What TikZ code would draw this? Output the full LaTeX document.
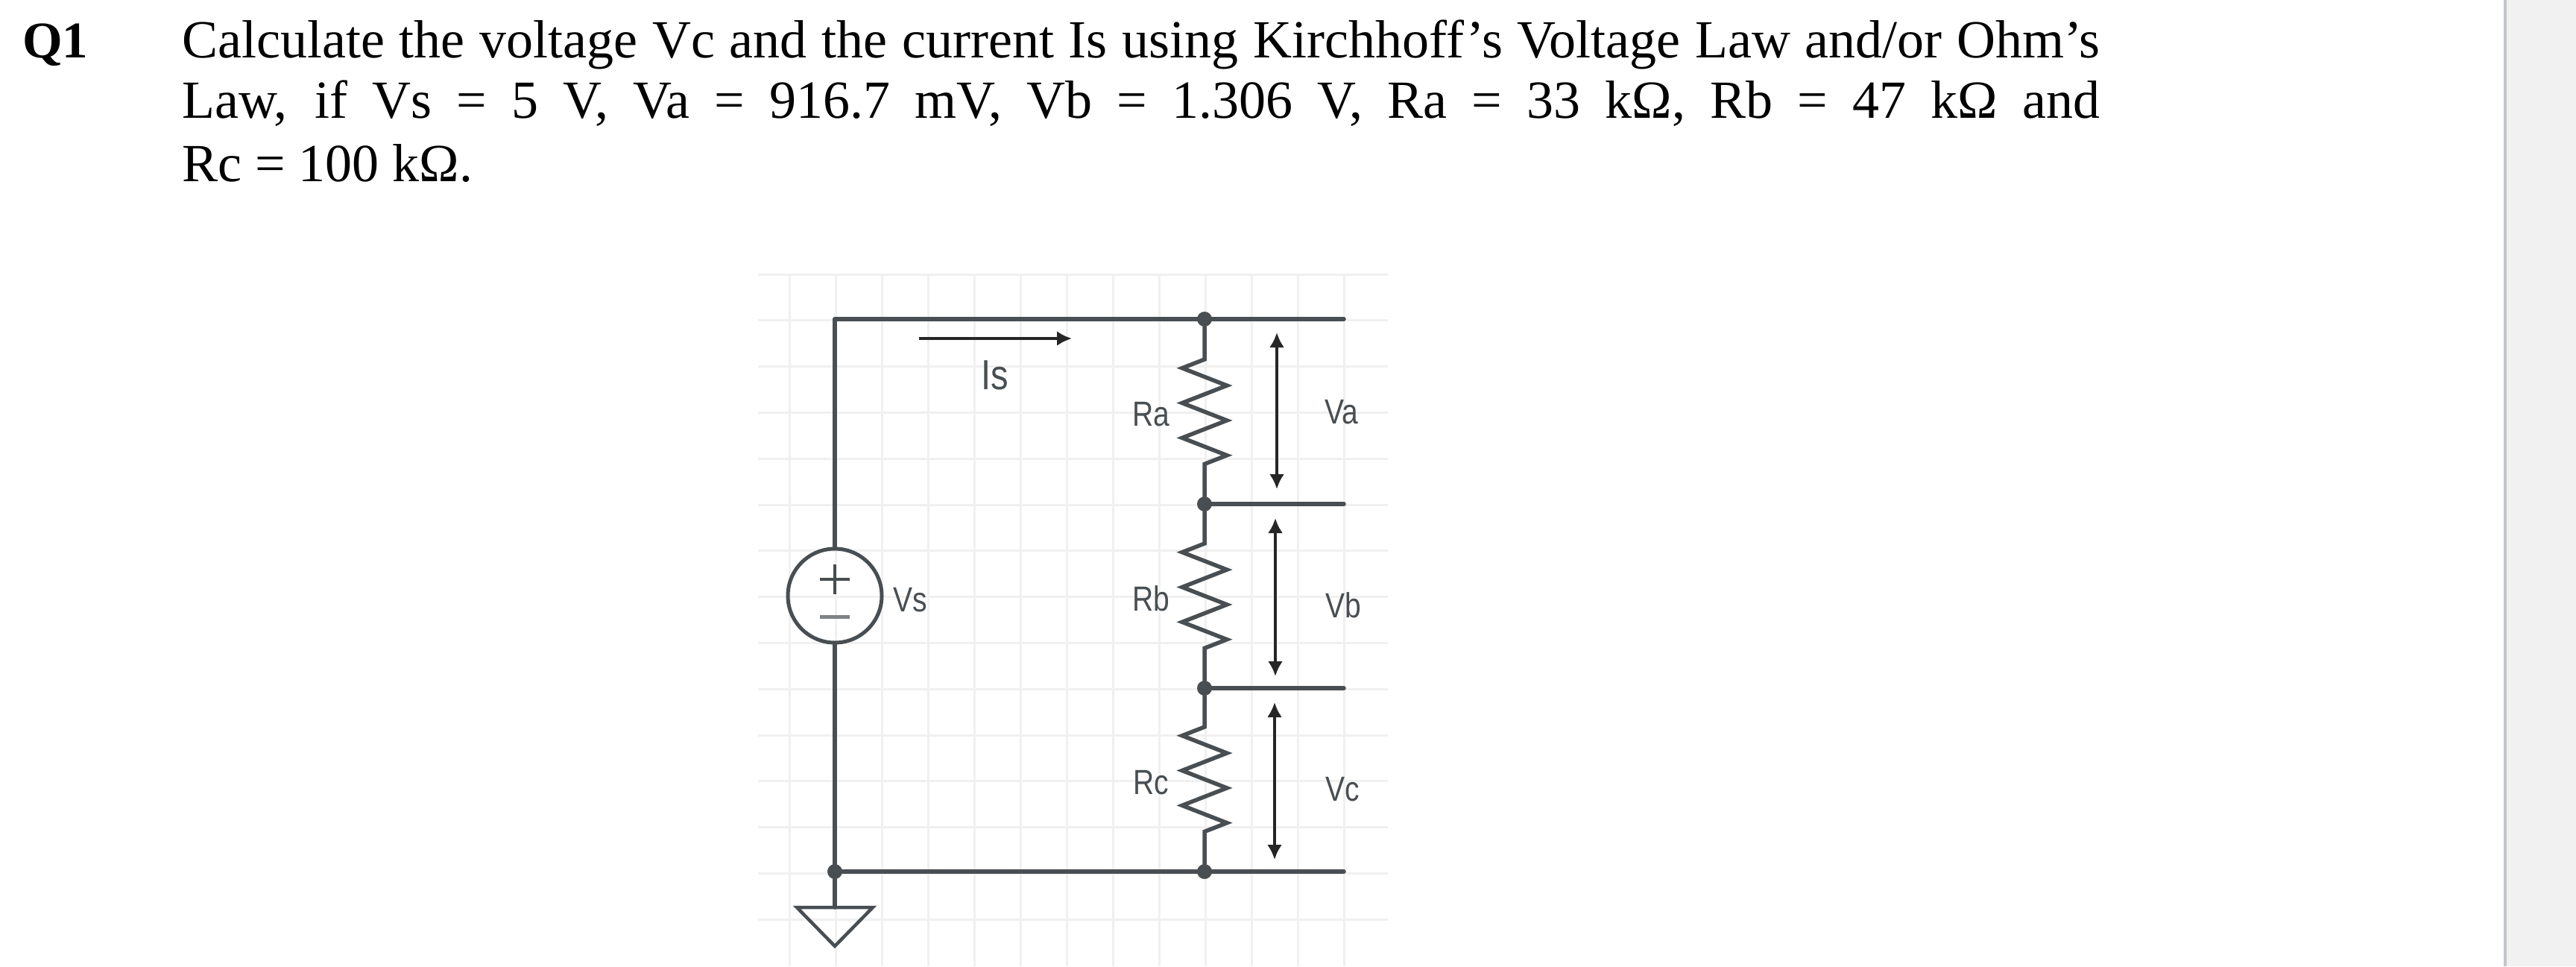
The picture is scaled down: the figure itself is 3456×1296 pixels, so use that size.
\documentclass[tikz,border=0pt]{standalone}
\usepackage{fontspec}
\setmainfont{Liberation Serif}
\newfontfamily\labelfont{Liberation Sans}
\usetikzlibrary{arrows.meta}
\definecolor{wirecol}{HTML}{484E52}
\definecolor{gridcol}{HTML}{F0F0F0}
\definecolor{panelcol}{HTML}{F1F1F2}
\definecolor{edgecol}{HTML}{C2C5C9}
\newcommand{\tall}[1]{\scalebox{1}[1.2]{#1}}

\begin{document}
\begin{tikzpicture}
  [x=1pt,y=-1pt,
   wire/.style={draw=wirecol,line width=5.5pt,line cap=round,line join=miter},
   volt/.style={draw=black!85,line width=4pt,{Latex[length=20pt,width=20pt]}-{Latex[length=20pt,width=20pt]}},
   junction/.style={circle,fill=wirecol,inner sep=0pt,minimum size=20pt},
   cct/.style={font=\labelfont\fontsize{39}{44}\selectfont,text=wirecol,inner sep=0pt},
   line/.style={anchor=base west,inner sep=0pt,font=\fontsize{72}{80}\selectfont,text=black}]
  \useasboundingbox (0,0) rectangle (3456,1296);
  \fill[panelcol] (3363,0) rectangle (3456,1296);
  \fill[edgecol] (3359,0) rectangle (3363,1296);

  % grid
  \foreach \x in {0,...,12}
    \draw[gridcol,line width=3pt] (1059+62*\x,367) -- (1059+62*\x,1296);
  \foreach \y in {0,...,14}
    \draw[gridcol,line width=3pt] (1017,368+61.8*\y) -- (1862,368+61.8*\y);

  % text
  \node[line,font=\bfseries\fontsize{69}{80}\selectfont] (q) at (30,77) {Q1};
  \node[line] (l1) at (244,77) {\hbox to 2573pt{Calculate the voltage Vc and the current Is using Kirchhoff’s Voltage Law and/or Ohm’s}};
  \node[line] (l2) at (244,158) {\hbox to 2573pt{Law, if Vs = 5 V, Va = 916.7 mV, Vb = 1.306 V, Ra = 33 kΩ, Rb = 47 kΩ and}};
  \node[line] (l3) at (244,243) {Rc = 100 kΩ.};

  % circuit
  \coordinate (tl) at (1120,428);
  \coordinate (tr) at (1803,428);
  \coordinate (mr1) at (1803,676);
  \coordinate (mr2) at (1803,923);
  \coordinate (br) at (1803,1169);
  \coordinate (gnd) at (1120,1217);
  \node[junction] (ja) at (1616,428) {};
  \node[junction] (jb) at (1616,676) {};
  \node[junction] (jc) at (1616,923) {};
  \node[junction] (jd) at (1616,1169) {};
  \node[junction] (je) at (1120,1169) {};
  \node[draw=wirecol,line width=5pt,circle,inner sep=0pt,minimum size=126pt] (vs) at (1120,799) {};

  \foreach \from/\to in {tl/tr,jb/mr1,jc/mr2,je/br,vs/je,je/gnd}
    \draw[wire] (\from) -- (\to);
  \draw[wire] (tl) -- (vs);

  \foreach \from/\to/\y in {ja/jb/482,jb/jc/729,jc/jd/975}
    \draw[wire] (\from) -- (1616,\y) -- ++(-30,11.7) -- ++(60,23.4) -- ++(-60,23.4)
      -- ++(60,23.4) -- ++(-60,23.4) -- ++(60,23.4) -- ++(-30,11.7) -- (\to);

  \draw[wire,line width=4.5pt] (gnd) -- (1069,1217) -- (1120,1269) -- (1171,1217) -- cycle;

  % source signs
  \coordinate (p1) at (1100,777);
  \coordinate (p2) at (1140,777);
  \coordinate (p3) at (1120,757);
  \coordinate (p4) at (1120,797);
  \coordinate (m1) at (1100,827);
  \coordinate (m2) at (1140,827);
  \draw[wire,line cap=butt,line width=4.5pt] (p1) -- (p2);
  \draw[wire,line cap=butt,line width=4.5pt] (p3) -- (p4);
  \draw[wire,line cap=butt,line width=5pt,draw=wirecol!70] (m1) -- (m2);

  % arrows
  \coordinate (a1) at (1713,446);
  \coordinate (a2) at (1713,656);
  \coordinate (b1) at (1711,695);
  \coordinate (b2) at (1711,907);
  \coordinate (c1) at (1710,942);
  \coordinate (c2) at (1710,1153);
  \coordinate (i1) at (1233,454);
  \coordinate (i2) at (1438,454);
  \foreach \from/\to in {a1/a2,b1/b2,c1/c2}
    \draw[volt] (\from) -- (\to);
  \draw[draw=black!85,line width=4pt,-{Latex[length=20pt,width=20pt]}] (i1) -- (i2);

  % labels
  \node[cct] (is) at (1335,503) {\tall{\fontsize{47}{50}\selectfont Is}};
  \node[cct] (vsl) at (1221,805) {\tall{Vs}};
  \node[cct] (ra) at (1544,556) {\tall{Ra}};
  \node[cct] (rb) at (1544,803) {\tall{Rb}};
  \node[cct] (rc) at (1544,1050) {\tall{Rc}};
  \node[cct] (va) at (1800,553) {\tall{Va}};
  \node[cct] (vb) at (1802,812) {\tall{Vb}};
  \node[cct] (vc) at (1801,1059) {\tall{Vc}};
\end{tikzpicture}
\end{document}
